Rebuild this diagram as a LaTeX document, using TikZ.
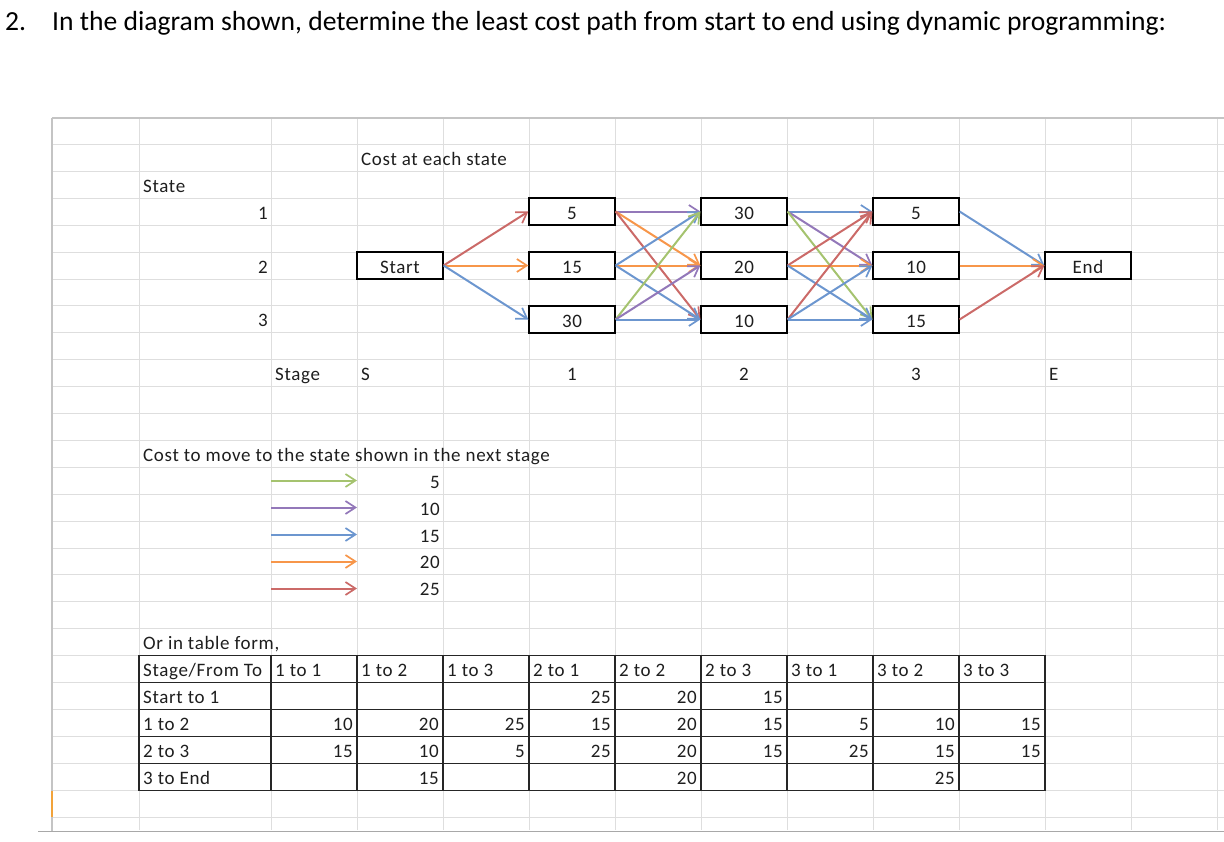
\documentclass[tikz,border=0pt]{standalone}
\usepackage{fontspec}
\setmainfont{Carlito}
\newfontfamily\sheetfont[LetterSpace=3.5]{Carlito}
\usetikzlibrary{arrows.meta}
\definecolor{ered}{HTML}{CB6A68}
\definecolor{eorange}{HTML}{F7964A}
\definecolor{eblue}{HTML}{6C96CF}
\definecolor{egreen}{HTML}{A5C36F}
\definecolor{epurple}{HTML}{9378B9}
\definecolor{gridgray}{HTML}{DEDEDE}
\definecolor{bordergray}{HTML}{C4C4C4}
\definecolor{bottomgray}{HTML}{A8A8A8}
\definecolor{txt}{HTML}{1E1E1E}
\definecolor{selorange}{HTML}{F2A33A}
\begin{document}
\begin{tikzpicture}[x=1pt,y=-1pt,
  grid/.style={draw=gridgray, line width=0.9pt},
  border/.style={draw=bordergray, line width=2pt},
  tbl/.style={draw=black!85, line width=1.2pt},
  statebox/.style={draw=black, line width=1.2pt, fill=white, minimum width=86pt, minimum height=26.9pt, inner sep=0pt, text height=15pt, text depth=0pt, text=txt, font=\sheetfont\fontsize{19}{19}\selectfont},
  cell/.style={inner sep=0pt, text=txt, font=\sheetfont\fontsize{19}{19}\selectfont},
  lft/.style={cell, anchor=base west},
  rgt/.style={cell, anchor=base east},
  ctr/.style={cell, anchor=base},
  arr/.style={line width=2pt, -{Straight Barb[length=10pt,width=13pt,line width=1.7pt]}},
]
\useasboundingbox (0,0) rectangle (1224,841);
% heading
\node[anchor=base west, inner sep=0pt, font=\fontsize{27.6}{27.6}\selectfont, text=black] (hnum) at (5,30) {2.};
\node[anchor=base west, inner sep=0pt, font=\fontsize{27.6}{27.6}\selectfont, text=black] (head) at (52,30) {In the diagram shown, determine the least cost path from start to end using dynamic programming:};
% spreadsheet grid
\foreach \y in {144.5,171.4,198.3,225.2,252.1,279.0,305.9,332.8,359.7,386.6,413.5,440.4,467.3,494.2,521.1,548.0,574.9,601.8,628.7,655.6,682.5,709.4,736.3,763.2,790.1,817.0}
  \draw[grid] (53,\y) -- (1224,\y);
\foreach \x in {139,271,357,443,529,615,701,787,873,959,1045,1131,1217}
  \draw[grid] (\x,117.6) -- (\x,830);
\draw[border] (52,117.6) -- (1224,117.6);
\draw[border] (52,117.6) -- (52,831);
\draw[draw=bottomgray, line width=1.5pt] (38,831.5) -- (1224,831.5);
\draw[draw=selorange, line width=2.5pt] (52,790.5) -- (52,817);
% upper texts
\node[lft] (costst) at (361,165.4) {Cost at each state};
\node[lft] (statelbl) at (143,192.3) {State};
\node[rgt] (s1) at (268,219.2) {1};
\node[rgt] (s2) at (268,273.0) {2};
\node[rgt] (s3) at (268,326.8) {3};
\node[lft] (stagelbl) at (275,380.6) {Stage};
\node[lft] (stS) at (361,380.6) {S};
\node[ctr] (st1) at (572,380.6) {1};
\node[ctr] (st2) at (744,380.6) {2};
\node[ctr] (st3) at (916,380.6) {3};
\node[lft] (stE) at (1049,380.6) {E};
% state boxes
\node[statebox] (st) at (400,265.5) {Start};
\node[statebox] (a1) at (572,211.5) {5};
\node[statebox] (a2) at (572,265.5) {15};
\node[statebox] (a3) at (572,319.5) {30};
\node[statebox] (b1) at (744,211.5) {30};
\node[statebox] (b2) at (744,265.5) {20};
\node[statebox] (b3) at (744,319.5) {10};
\node[statebox] (c1) at (916,211.5) {5};
\node[statebox] (c2) at (916,265.5) {10};
\node[statebox] (c3) at (916,319.5) {15};
\node[statebox] (en) at (1088,265.5) {End};
% stage S -> 1
\draw[arr, ered] (st.east) -- (a1.west);
\draw[arr, eorange] (st.east) -- (a2.west);
\draw[arr, eblue] (st.east) -- (a3.west);
% stage 1 -> 2
\draw[arr, epurple] (a1.east) -- (b1.west);
\draw[arr, eorange] (a1.east) -- (b2.west);
\draw[arr, ered] (a1.east) -- (b3.west);
\draw[arr, eblue] (a2.east) -- (b1.west);
\draw[arr, eorange] (a2.east) -- (b2.west);
\draw[arr, eblue] (a2.east) -- (b3.west);
\draw[arr, egreen] (a3.east) -- (b1.west);
\draw[arr, epurple] (a3.east) -- (b2.west);
\draw[arr, eblue] (a3.east) -- (b3.west);
% stage 2 -> 3
\draw[arr, eblue] (b1.east) -- (c1.west);
\draw[arr, epurple] (b1.east) -- (c2.west);
\draw[arr, egreen] (b1.east) -- (c3.west);
\draw[arr, ered] (b2.east) -- (c1.west);
\draw[arr, eorange] (b2.east) -- (c2.west);
\draw[arr, eblue] (b2.east) -- (c3.west);
\draw[arr, ered] (b3.east) -- (c1.west);
\draw[arr, eblue] (b3.east) -- (c2.west);
\draw[arr, eblue] (b3.east) -- (c3.west);
% stage 3 -> End
\draw[arr, eblue] (c1.east) -- (en.west);
\draw[arr, eorange] (c2.east) -- (en.west);
\draw[arr, ered] (c3.east) -- (en.west);
% legend
\node[lft] (costmv) at (143,461.3) {Cost to move to the state shown in the next stage};
\foreach \i/\yc/\yb/\v/\c in {1/480.5/488.2/5/egreen, 2/507.5/515.1/10/epurple, 3/534.5/542.0/15/eblue, 4/561.5/568.9/20/eorange, 5/588.5/595.8/25/ered}{
  \coordinate (ls\i) at (271,\yc);
  \coordinate (le\i) at (357,\yc);
  \draw[arr, \c] (ls\i) -- (le\i);
  \node[rgt] (lv\i) at (440,\yb) {\v};
}
% table
\node[lft] (orin) at (143,649.6) {Or in table form,};
\draw[tbl] (139,655.6) rectangle (1045,790.1);
\foreach \y in {682.5,709.4,736.3,763.2}
  \draw[tbl] (139,\y) -- (1045,\y);
\foreach \x in {271,357,443,529,615,701,787,873,959}
  \draw[tbl] (\x,655.6) -- (\x,790.1);
\node[lft] (h0) at (143,676.5) {Stage/From To};
\foreach \x/\t [count=\k] in {275/1 to 1, 361/1 to 2, 447/1 to 3, 533/2 to 1, 619/2 to 2, 705/2 to 3, 791/3 to 1, 877/3 to 2, 963/3 to 3}
  \node[lft] (h\k) at (\x,676.5) {\t};
\node[lft] (r1) at (143,703.4) {Start to 1};
\node[lft] (r2) at (143,730.3) {1 to 2};
\node[lft] (r3) at (143,757.2) {2 to 3};
\node[lft] (r4) at (143,784.1) {3 to End};
\foreach \x/\v [count=\k] in {611/25, 697/20, 783/15}
  \node[rgt] (va\k) at (\x,703.4) {\v};
\foreach \x/\v [count=\k] in {353/10, 439/20, 525/25, 611/15, 697/20, 783/15, 869/5, 955/10, 1041/15}
  \node[rgt] (vb\k) at (\x,730.3) {\v};
\foreach \x/\v [count=\k] in {353/15, 439/10, 525/5, 611/25, 697/20, 783/15, 869/25, 955/15, 1041/15}
  \node[rgt] (vc\k) at (\x,757.2) {\v};
\foreach \x/\v [count=\k] in {439/15, 697/20, 955/25}
  \node[rgt] (vd\k) at (\x,784.1) {\v};
\end{tikzpicture}
\end{document}
